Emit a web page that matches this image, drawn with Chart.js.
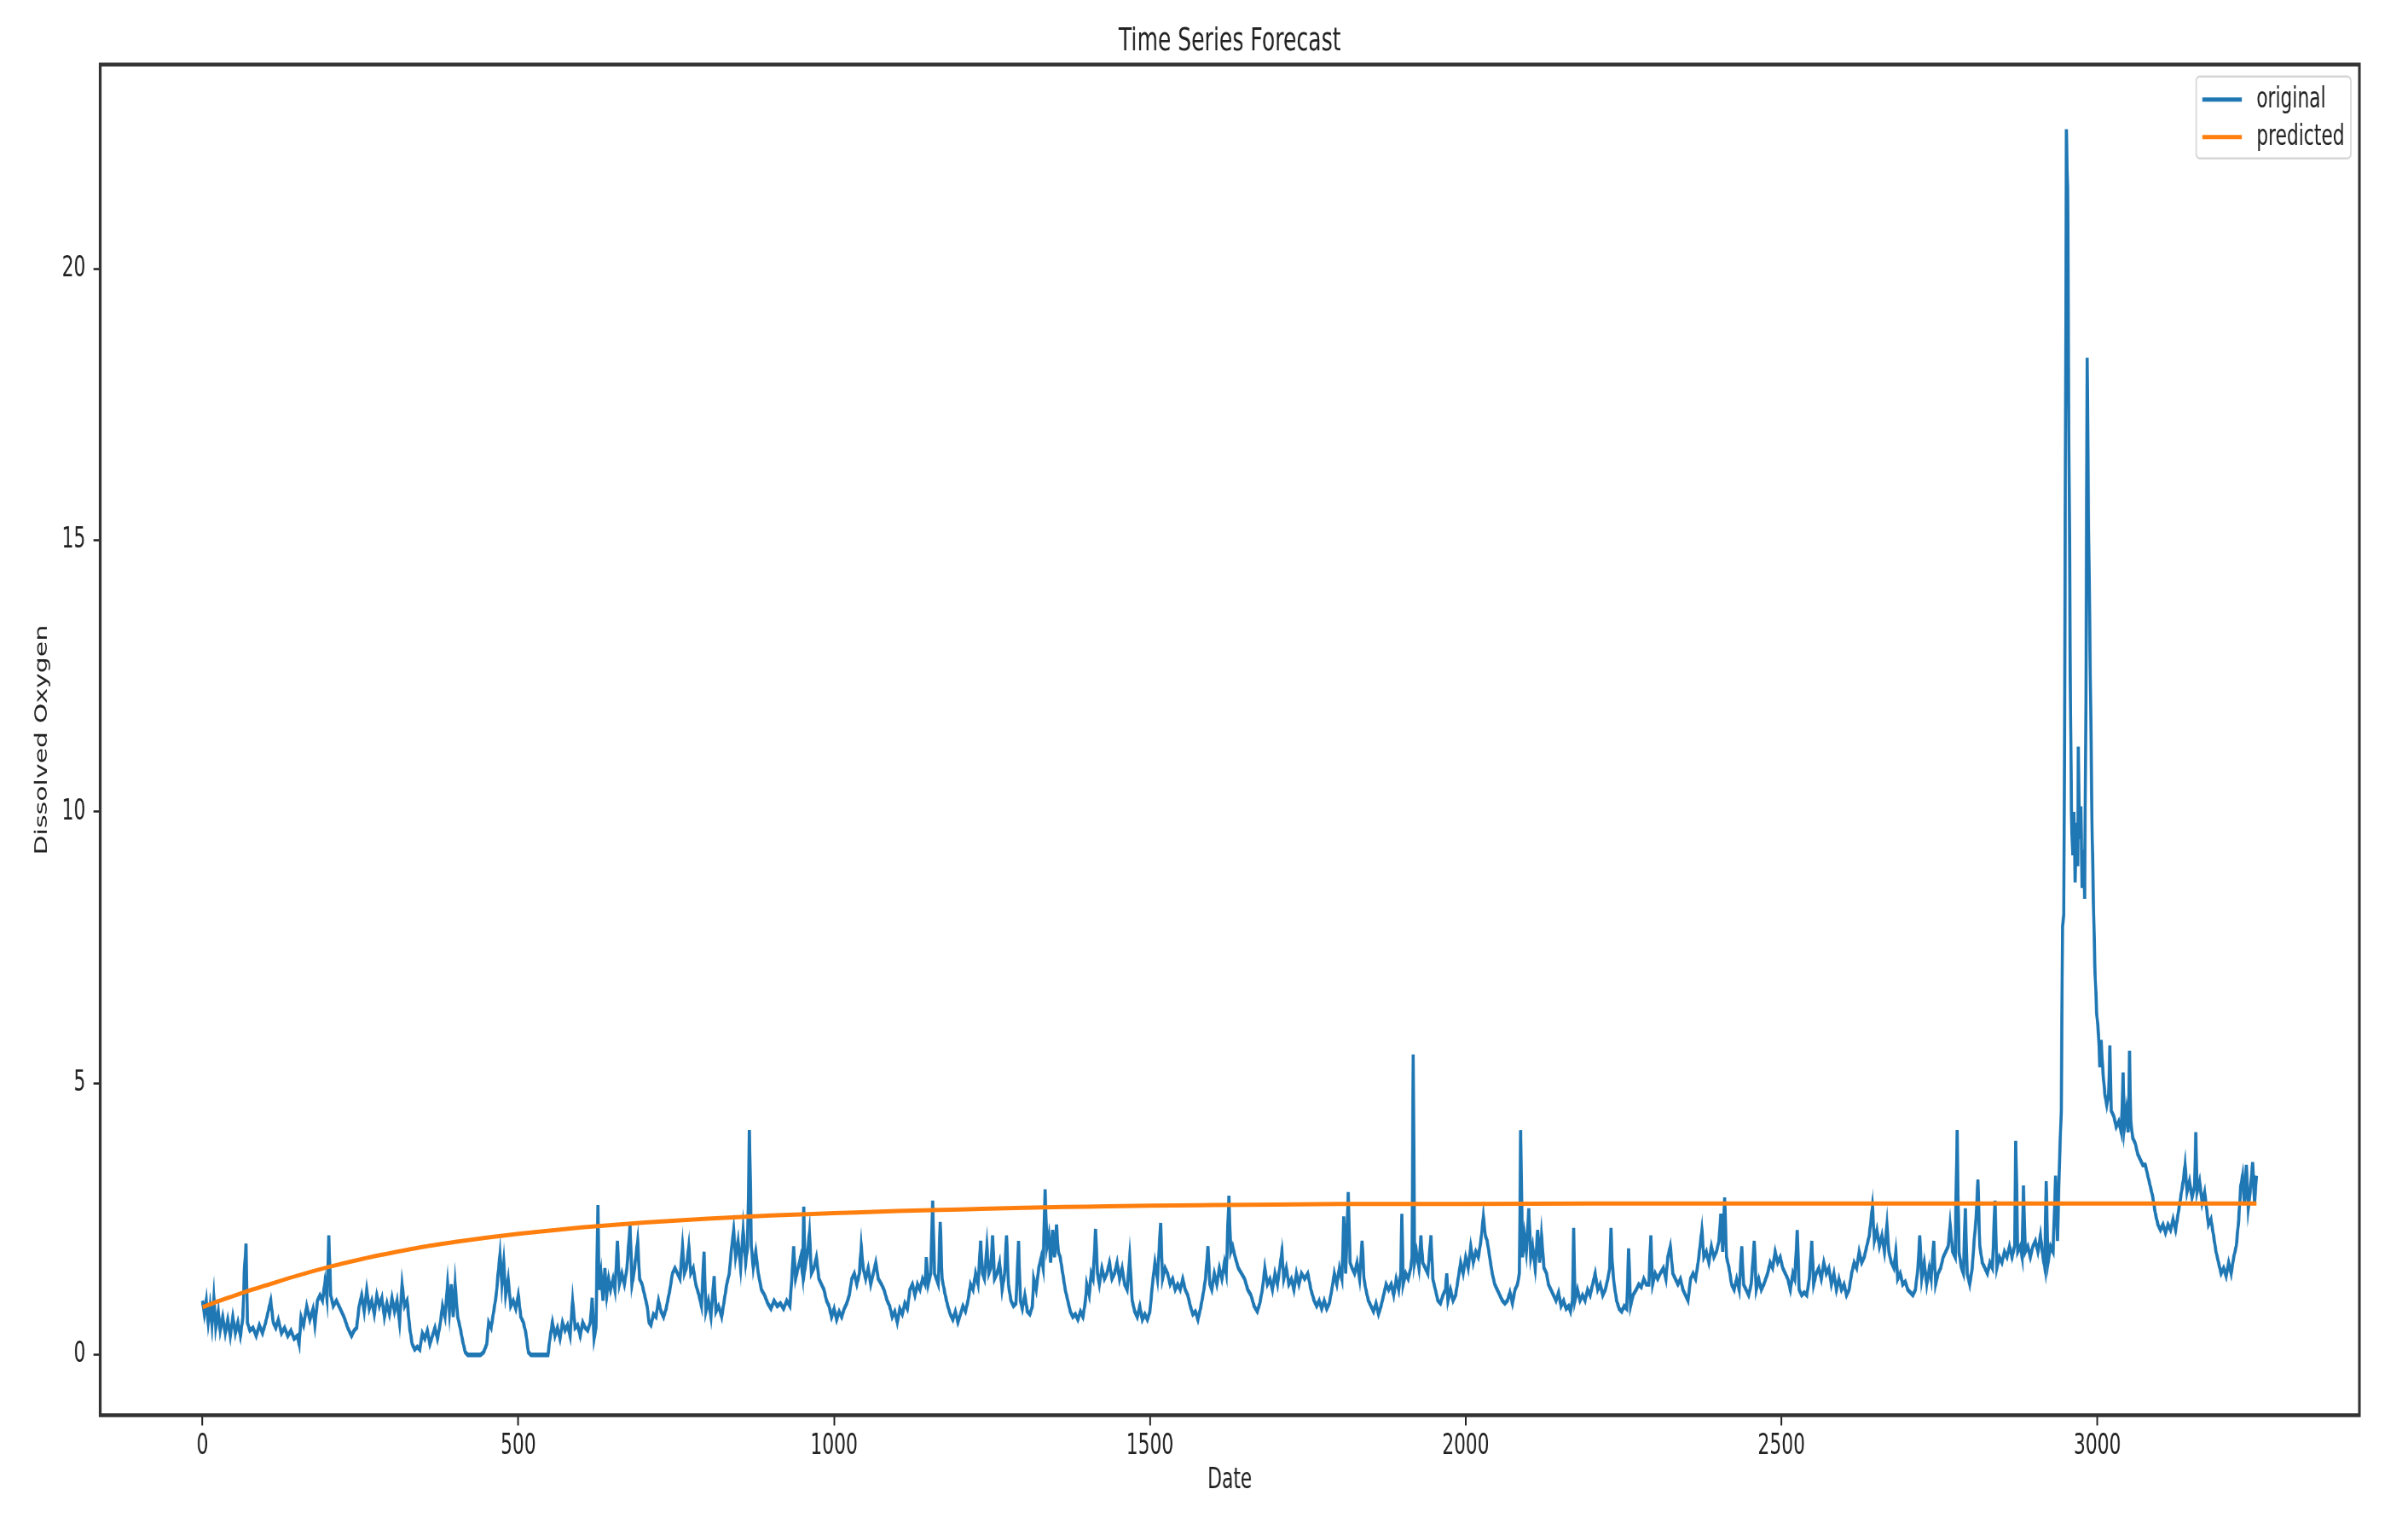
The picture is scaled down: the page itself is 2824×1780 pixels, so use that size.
<!DOCTYPE html>
<html>
<head>
<meta charset="utf-8">
<title>Time Series Forecast</title>
<script src="https://cdn.jsdelivr.net/npm/chart.js@4.4.1/dist/chart.umd.min.js"></script>
<style>
  html, body { margin: 0; padding: 0; background: #fff; overflow: hidden; }
  #wrap { width: 2824px; height: 1780px; overflow: hidden; }
  #chart { display: block; transform-origin: 0 0; }
</style>
</head>
<body>
<div id="wrap"><canvas id="chart"></canvas></div>
<script>
// values: [index, dissolved oxygen]
const original = [
  [0,1.0],[3,0.75],[6,1.0],[9,0.6],[12,0.9],[15,0.55],[18,1.05],[21,0.5],[25,0.8],[28,0.45],[32,0.7],[36,0.4],[40,0.65],[44,0.35],[48,0.7],[52,0.4],[56,0.6],[60,0.35],[64,0.7],[66,1.5],[69,2.05],[71,0.6],[75,0.45],[80,0.5],[85,0.35],[90,0.55],[95,0.4],[100,0.6],[104,0.8],[108,1.0],[112,0.6],[116,0.5],[120,0.65],[125,0.4],[130,0.5],[135,0.35],[140,0.45],[145,0.3],[150,0.35],[153,0.2],[156,0.7],[160,0.55],[165,0.9],[170,0.65],[175,0.85],[178,0.55],[182,1.0],[186,1.1],[190,1.0],[194,1.35],[197,1.05],[200,2.2],[203,1.1],[207,0.9],[212,1.0],[218,0.85],[224,0.7],[230,0.5],[236,0.35],[240,0.45],[244,0.5],[248,0.9],[252,1.1],[256,0.8],[260,1.2],[264,0.85],[268,1.0],[272,0.75],[276,1.1],[280,0.9],[284,1.05],[288,0.7],[292,0.95],[296,0.75],[300,1.05],[304,0.8],[308,1.0],[312,0.6],[316,1.3],[320,0.9],[324,1.0],[328,0.5],[332,0.2],[336,0.1],[340,0.15],[344,0.1],[348,0.4],[352,0.3],[356,0.45],[360,0.2],[364,0.35],[368,0.5],[372,0.3],[376,0.55],[380,0.9],[384,0.7],[388,1.3],[391,0.8],[394,1.3],[397,0.7],[400,1.3],[404,0.7],[408,0.5],[412,0.25],[416,0.05],[420,0],[430,0],[440,0],[445,0.05],[450,0.2],[453,0.6],[457,0.5],[461,0.8],[465,1.1],[468,1.5],[471,1.85],[474,1.3],[477,1.7],[480,1.1],[484,1.4],[488,0.9],[492,1.0],[496,0.85],[500,1.1],[504,0.7],[508,0.6],[512,0.4],[516,0.05],[520,0],[535,0],[547,0],[550,0.3],[554,0.6],[558,0.35],[562,0.5],[566,0.3],[570,0.6],[574,0.45],[578,0.55],[582,0.35],[586,1.0],[590,0.5],[594,0.55],[598,0.35],[602,0.6],[606,0.5],[610,0.45],[614,0.6],[617,1.05],[620,0.3],[623,0.5],
  [626,2.76],[628,1.2],[631,1.5],[634,1.0],[637,1.6],[640,1.1],[643,1.4],[646,1.2],[650,1.4],[653,1.2],[657,2.1],[660,1.3],[664,1.5],[668,1.3],[672,1.6],[677,2.4],[680,1.3],[683,1.5],[689,2.1],[692,1.4],[696,1.3],[700,1.1],[704,0.9],[707,0.6],[710,0.55],[714,0.75],[718,0.7],[722,1.0],[726,0.8],[730,0.7],[734,0.85],[740,1.2],[744,1.5],[748,1.6],[752,1.5],[756,1.4],[760,2.0],[763,1.5],[766,1.6],[770,2.0],[773,1.5],[777,1.6],[781,1.3],[786,1.1],[790,0.9],[794,1.9],[797,0.8],[801,1.0],[805,0.7],[810,1.45],[813,0.8],[817,0.9],[822,0.7],[826,1.0],[830,1.3],[834,1.5],[838,2.0],[841,2.3],[844,1.8],[848,2.1],[852,1.6],[856,2.3],[860,1.7],[863,2.0],[866,4.14],[869,2.0],[872,1.6],[876,1.9],[880,1.5],[885,1.2],[890,1.1],[895,0.95],[900,0.85],[905,1.0],[910,0.9],[915,0.95],[920,0.85],[925,1.0],[930,0.9],[933,1.4],[936,2.0],[939,1.4],[943,1.6],[947,1.8],[950,1.5],[952,2.73],[954,1.6],[958,1.9],[961,2.25],[964,1.5],[968,1.6],[972,1.8],[976,1.4],[980,1.3],[984,1.2],[988,1.0],[992,0.9],[996,0.7],[1000,0.85],[1004,0.65],[1008,0.8],[1012,0.7],[1016,0.85],[1020,0.95],[1024,1.1],[1028,1.4],[1032,1.5],[1036,1.3],[1040,1.5],[1043,2.0],[1046,1.6],[1050,1.4],[1054,1.6],[1058,1.3],[1062,1.5],[1066,1.7],[1070,1.4],[1075,1.3],[1079,1.2],[1084,1.0],[1088,0.9],[1092,0.7],[1096,0.8],[1100,0.6],[1104,0.85],[1108,0.75],[1112,0.95],[1116,0.85],[1120,1.2],[1124,1.3],[1128,1.1],[1132,1.3],[1136,1.2],[1140,1.4],[1144,1.3],[1146,1.8],[1149,1.3],[1153,1.5],[1156,2.84],[1159,1.5],[1162,1.4],[1165,1.3],[1168,2.45],[1171,1.4],[1176,1.1],[1180,0.9],[1184,0.75],[1188,0.65],[1192,0.8],[1196,0.6],[1200,0.75],[1204,0.9],[1208,0.8],[1212,1.0],[1216,1.3],[1220,1.2],[1224,1.5],[1228,1.3],[1232,2.1],[1235,1.5],[1238,1.4],[1242,2.0],[1245,1.5],[1248,1.6],[1251,2.2],[1254,1.4],[1258,1.5],
  [1262,1.7],[1266,1.2],[1270,1.5],[1273,2.2],[1276,1.3],[1280,1.0],[1284,0.9],[1288,0.95],[1292,2.1],[1295,1.0],[1298,0.85],[1302,1.1],[1306,0.8],[1310,0.75],[1314,0.9],[1316,1.4],[1320,1.2],[1324,1.6],[1328,1.8],[1331,1.6],[1334,3.05],[1337,2.0],[1340,2.2],[1343,1.7],[1346,2.3],[1349,1.8],[1352,2.4],[1355,1.9],[1358,1.8],[1362,1.5],[1366,1.2],[1370,1.0],[1374,0.8],[1378,0.7],[1382,0.75],[1386,0.65],[1390,0.8],[1394,0.7],[1398,1.0],[1400,1.3],[1404,1.1],[1407,1.5],[1410,1.4],[1414,2.32],[1417,1.5],[1420,1.3],[1424,1.6],[1428,1.4],[1432,1.5],[1436,1.7],[1440,1.4],[1444,1.5],[1448,1.7],[1452,1.4],[1456,1.6],[1460,1.3],[1464,1.2],[1468,1.8],[1472,1.0],[1476,0.8],[1480,0.7],[1484,0.9],[1488,0.65],[1492,0.75],[1496,0.65],[1500,0.8],[1504,1.3],[1508,1.7],[1512,1.4],[1517,2.43],[1520,1.4],[1524,1.6],[1528,1.5],[1532,1.3],[1536,1.4],[1540,1.2],[1544,1.3],[1548,1.2],[1552,1.4],[1556,1.2],[1560,1.1],[1564,0.9],[1568,0.75],[1572,0.8],[1576,0.65],[1580,0.85],[1584,1.1],[1588,1.4],[1592,2.0],[1595,1.3],[1598,1.2],[1602,1.5],[1606,1.3],[1610,1.6],[1614,1.4],[1618,1.7],[1621,1.5],[1625,2.93],[1628,1.9],[1631,2.0],[1635,1.8],[1640,1.6],[1645,1.5],[1650,1.4],[1655,1.2],[1660,1.1],[1665,0.9],[1670,0.8],[1674,0.95],[1678,1.2],[1682,1.6],[1686,1.3],[1690,1.4],[1694,1.2],[1698,1.5],[1702,1.3],[1709,1.9],[1712,1.4],[1716,1.6],[1720,1.3],[1724,1.4],[1728,1.2],[1732,1.5],[1736,1.3],[1740,1.5],[1745,1.4],[1750,1.5],[1755,1.2],[1760,1.0],[1764,0.9],[1768,1.0],[1772,0.85],[1776,1.0],[1780,0.85],[1784,0.95],[1788,1.2],[1792,1.5],[1796,1.3],[1800,1.6],[1804,1.4],[1807,2.55],[1810,1.5],[1814,3.0],[1817,1.7],[1820,1.6],[1824,1.5],[1828,1.7],[1832,1.4],[1836,2.1],[1839,1.4],[1842,1.2],[1846,1.0],[1850,0.9],[1854,0.8],[1858,0.95],[1862,0.75],[1866,0.9],[1870,1.1],[1874,1.3],[1878,1.2],
  [1882,1.3],[1886,1.1],[1890,1.4],[1894,1.2],[1897,1.5],[1899,2.6],[1901,1.3],[1905,1.5],[1909,1.4],[1913,1.6],[1915,1.8],[1917,5.53],[1919,1.7],[1922,1.9],[1926,1.6],[1929,2.2],[1932,1.7],[1936,1.6],[1940,1.5],[1945,2.2],[1948,1.4],[1952,1.2],[1956,1.0],[1960,0.95],[1964,1.1],[1968,1.2],[1970,1.5],[1972,1.0],[1976,1.2],[1980,1.0],[1984,1.1],[1988,1.4],[1992,1.7],[1996,1.5],[2000,1.8],[2004,1.6],[2008,2.0],[2012,1.7],[2016,1.9],[2020,1.8],[2024,2.1],[2028,2.55],[2031,2.2],[2034,2.1],[2038,1.8],[2042,1.5],[2046,1.3],[2050,1.2],[2054,1.1],[2058,1.0],[2062,0.95],[2066,1.0],[2070,1.15],[2074,0.95],[2078,1.2],[2082,1.3],[2085,1.5],[2087,4.14],[2090,1.8],[2093,2.2],[2096,1.9],[2100,2.7],[2103,1.8],[2106,2.0],[2110,1.6],[2114,2.3],[2117,1.7],[2120,2.2],[2124,1.6],[2128,1.5],[2131,1.3],[2135,1.2],[2139,1.1],[2143,1.0],[2147,1.15],[2151,0.9],[2155,1.0],[2159,0.85],[2163,0.9],[2166,0.8],[2169,1.0],[2171,2.34],[2173,1.0],[2177,1.2],[2181,1.0],[2185,1.1],[2189,1.0],[2193,1.2],[2197,1.1],[2201,1.3],[2205,1.5],[2209,1.2],[2213,1.3],[2217,1.1],[2221,1.2],[2225,1.4],[2228,1.6],[2230,2.34],[2232,1.7],[2235,1.3],[2239,1.0],[2243,0.85],[2247,0.8],[2251,0.9],[2255,0.85],[2258,1.96],[2261,0.9],[2265,1.1],[2270,1.2],[2274,1.3],[2278,1.25],[2282,1.4],[2286,1.3],[2290,1.3],[2293,2.2],[2296,1.3],[2300,1.5],[2304,1.4],[2308,1.5],[2313,1.6],[2317,1.4],[2320,1.8],[2324,2.0],[2328,1.5],[2332,1.4],[2336,1.3],[2340,1.4],[2344,1.2],[2348,1.1],[2352,1.0],[2356,1.4],[2360,1.5],[2364,1.4],[2368,1.7],[2374,2.3],[2377,1.8],[2381,1.9],[2385,1.7],[2389,2.0],[2393,1.8],[2397,1.9],[2401,2.1],[2404,2.6],[2407,1.9],[2410,2.9],[2413,1.8],[2417,1.6],[2421,1.3],[2425,1.2],[2429,1.4],[2433,1.2],[2437,2.0],[2440,1.3],[2444,1.2],[2448,1.1],[2452,1.3],[2457,2.1],[2460,1.2],[2464,1.4],[2468,1.2],[2472,1.3],[2478,1.5],[2482,1.7],[2486,1.6],[2490,1.9],[2494,1.7],[2498,1.8],[2502,1.6],[2506,1.5],[2510,1.4],[2514,1.2],[2518,1.5],
  [2521,1.4],[2525,2.3],[2528,1.2],[2532,1.1],[2536,1.15],[2540,1.1],[2544,1.4],[2548,2.1],[2551,1.3],[2555,1.5],[2559,1.6],[2563,1.4],[2567,1.7],[2571,1.5],[2575,1.6],[2579,1.3],[2583,1.5],[2587,1.2],[2591,1.4],[2595,1.2],[2599,1.3],[2603,1.1],[2607,1.2],[2611,1.5],[2615,1.7],[2619,1.6],[2623,1.9],[2627,1.7],[2631,1.8],[2635,2.0],[2639,2.2],[2644,2.73],[2647,2.1],[2651,2.3],[2655,2.0],[2659,2.2],[2663,1.9],[2667,2.4],[2670,1.9],[2674,1.7],[2678,1.6],[2681,1.9],[2684,1.4],[2688,1.5],[2692,1.3],[2696,1.35],[2700,1.2],[2704,1.15],[2708,1.1],[2712,1.2],[2716,1.6],[2719,2.2],[2722,1.4],[2726,1.7],[2730,1.3],[2734,1.6],[2737,1.4],[2741,2.1],[2744,1.3],[2748,1.5],[2752,1.6],[2756,1.8],[2760,1.9],[2764,2.0],[2767,2.4],[2771,1.9],[2775,1.8],[2778,4.14],[2781,1.9],[2785,1.6],[2788,1.5],[2791,2.7],[2794,1.5],[2798,1.3],[2802,1.6],[2805,2.1],[2808,2.5],[2811,3.23],[2814,2.0],[2818,1.7],[2822,1.6],[2826,1.5],[2830,1.7],[2834,1.6],[2838,2.84],[2841,1.6],[2845,1.8],[2849,1.7],[2853,1.9],[2857,1.8],[2861,2.0],[2865,1.8],[2869,2.0],[2871,3.94],[2874,1.9],[2878,2.0],[2881,1.8],[2883,3.12],[2886,1.9],[2890,2.0],[2894,1.8],[2898,2.0],[2902,2.1],[2906,1.9],[2910,2.2],[2914,1.8],[2917,1.6],[2919,3.2],[2922,1.7],[2926,2.0],[2930,1.9],[2934,3.3],[2937,2.1],[2940,3.5],[2943,4.5],[2945,7.9],[2947,8.1],[2949,14.0],[2951,22.57],[2953,21.5],[2955,17.0],[2957,13.0],[2959,10.0],[2961,9.2],[2963,10.0],[2965,8.7],[2967,9.8],[2969,9.0],[2970,11.2],[2972,9.5],[2974,10.1],[2976,8.6],[2978,9.3],[2980,8.4],[2982,12.0],[2984,18.36],[2986,15.5],[2988,13.5],[2990,11.5],[2992,9.5],[2994,8.3],[2996,7.2],[2999,6.3],[3002,5.9],[3004,5.3],[3006,5.8],[3009,5.2],[3012,4.8],[3015,4.6],[3018,4.8],[3020,5.7],[3022,4.5],[3026,4.4],[3030,4.2],[3034,4.3],[3038,4.1],[3041,5.2],[3043,4.2],[3046,4.5],[3049,4.1],[3051,5.6],[3053,4.3],[3056,4.0],[3060,3.9],[3064,3.7],[3068,3.6],[3072,3.5],[3076,3.5],[3080,3.3],[3084,3.1],[3088,2.9],[3092,2.6],[3096,2.4],[3100,2.3],[3104,2.4],[3108,2.25],[3112,2.4],[3116,2.3],[3120,2.5],[3124,2.3],[3128,2.6],[3132,2.9],[3136,3.2],[3139,3.5],[3142,3.0],[3146,3.2],[3150,2.9],[3154,3.1],[3156,4.1],[3158,3.0],[3162,3.2],[3166,2.8],[3170,3.0],[3173,2.7],[3176,2.4],[3180,2.5],[3184,2.2],[3188,1.9],[3192,1.7],[3196,1.5],[3200,1.6],[3204,1.45],[3208,1.7],[3212,1.5],[3216,1.8],[3220,2.0],[3224,2.5],[3227,3.1],[3230,3.3],[3233,2.8],[3236,3.5],[3239,2.7],[3242,3.0],[3246,3.55],[3249,2.8],[3252,3.3]
];

// forecast curve, sampled along the x axis
const predictedX = [0, 25, 50, 75, 100, 150, 200, 250, 300, 350, 400, 450, 500, 600, 700, 800, 900, 1000, 1100, 1200, 1300, 1400, 1500, 1600, 1700, 1800, 2000, 2200, 2400, 2600, 2800, 3000, 3252];
const predictedY = [0.88, 0.99, 1.09, 1.19, 1.28, 1.46, 1.62, 1.76, 1.88, 1.99, 2.08, 2.16, 2.23, 2.35, 2.44, 2.51, 2.57, 2.61, 2.65, 2.68, 2.71, 2.73, 2.75, 2.76, 2.77, 2.78, 2.78, 2.79, 2.79, 2.79, 2.79, 2.79, 2.79];

const xTicks = [0, 500, 1000, 1500, 2000, 2500, 3000];
const yTicks = [0, 5, 10, 15, 20];

// the reference image is squeezed sideways, so draw wide and squeeze with css
const SQUASH = 0.66;
const W = Math.round(2824 / SQUASH);
const H = 1780;
const canvas = document.getElementById('chart');
canvas.width = W;
canvas.height = H;
canvas.style.width = W + 'px';
canvas.style.height = H + 'px';
canvas.style.transform = 'scaleX(' + SQUASH + ')';

const FONT = 'DejaVu Sans';
const INK = '#222';

const framePlugin = {
  id: 'frameTitleLegend',
  afterDraw(chart) {
    const ctx = chart.ctx;
    const a = chart.chartArea;
    ctx.save();
    // axes frame
    ctx.strokeStyle = '#333';
    ctx.lineWidth = 4.5;
    ctx.strokeRect(a.left, a.top, a.right - a.left, a.bottom - a.top);

    // title over the axes
    ctx.fillStyle = INK;
    ctx.font = '38px "' + FONT + '"';
    ctx.textAlign = 'center';
    ctx.textBaseline = 'alphabetic';
    ctx.fillText('Time Series Forecast', (a.left + a.right) / 2, 59);

    // legend box, upper right
    const bw = 275, bh = 96;
    const bx = a.right - 15 - bw, by = a.top + 14;
    ctx.beginPath();
    ctx.roundRect(bx, by, bw, bh, 6);
    ctx.fillStyle = 'rgba(255,255,255,0.8)';
    ctx.fill();
    ctx.strokeStyle = '#d6d6d6';
    ctx.lineWidth = 2.5;
    ctx.stroke();
    ctx.font = '33px "' + FONT + '"';
    ctx.textAlign = 'left';
    ctx.textBaseline = 'middle';
    chart.data.datasets.forEach((ds, i) => {
      const yy = by + 27 + i * 44;
      ctx.strokeStyle = ds.borderColor;
      ctx.lineWidth = 5;
      ctx.beginPath();
      ctx.moveTo(bx + 11, yy);
      ctx.lineTo(bx + 81, yy);
      ctx.stroke();
      ctx.fillStyle = INK;
      ctx.fillText(ds.label, bx + 107, yy + 1);
    });
    ctx.restore();
  }
};

new Chart(canvas, {
  type: 'line',
  data: {
    datasets: [
      {
        label: 'original',
        data: original.map(p => ({ x: p[0], y: p[1] })),
        borderColor: '#1f77b4',
        borderWidth: 5.5,
        pointRadius: 0,
        tension: 0,
        order: 2
      },
      {
        label: 'predicted',
        data: predictedX.map((x, i) => ({ x: x, y: predictedY[i] })),
        borderColor: '#ff7f0e',
        borderWidth: 5,
        pointRadius: 0,
        cubicInterpolationMode: 'monotone',
        order: 1
      }
    ]
  },
  options: {
    responsive: false,
    animation: false,
    normalized: true,
    layout: { padding: { top: 75.7, right: W - 4192.4, bottom: 0, left: 0 } },
    plugins: { legend: { display: false }, tooltip: { enabled: false }, title: { display: false } },
    scales: {
      x: {
        type: 'linear',
        min: -162,
        max: 3415,
        afterBuildTicks: s => { s.ticks = xTicks.map(v => ({ value: v })); },
        afterFit: s => { s.height = 120.5; },
        border: { display: false },
        grid: { display: true, drawOnChartArea: false, drawTicks: true, tickLength: 12, tickWidth: 3, tickColor: INK },
        ticks: {
          font: { family: FONT, size: 33 },
          color: INK,
          padding: 5,
          maxRotation: 0,
          autoSkip: false,
          callback: v => String(v)
        },
        title: {
          display: true,
          text: 'Date',
          font: { family: FONT, size: 33 },
          color: INK,
          padding: { top: 0, bottom: 24 }
        }
      },
      y: {
        type: 'linear',
        min: -1.11,
        max: 23.76,
        afterBuildTicks: s => { s.ticks = yTicks.map(v => ({ value: v })); },
        afterFit: s => { s.width = 178; },
        border: { display: false },
        grid: { display: true, drawOnChartArea: false, drawTicks: true, tickLength: 12, tickWidth: 2.5, tickColor: INK },
        ticks: {
          font: { family: FONT, size: 33 },
          color: INK,
          padding: 14,
          autoSkip: false,
          callback: v => String(v)
        },
        title: {
          display: true,
          text: 'Dissolved Oxygen',
          font: { family: FONT, size: 30 },
          color: INK,
          padding: { top: 57, bottom: 0 }
        }
      }
    }
  },
  plugins: [framePlugin]
});
</script>
</body>
</html>
